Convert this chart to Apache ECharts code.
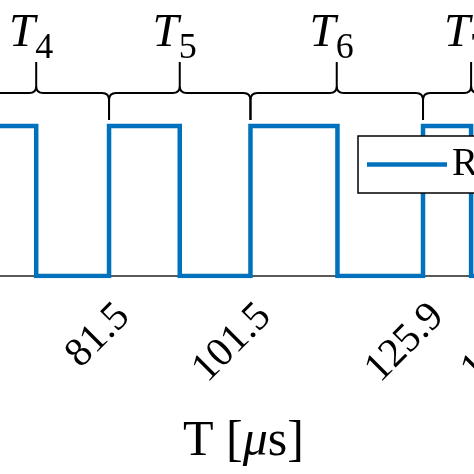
<!DOCTYPE html>
<html><head><meta charset="utf-8">
<script src="https://cdn.jsdelivr.net/npm/echarts@6/dist/echarts.min.js"></script>
<style>html,body{margin:0;padding:0;background:#fff}#c{width:474px;height:474px}</style>
</head><body><div id="c"></div>
<script>
// Data (time in microseconds)
const riseTimes = [60.9, 81.5, 101.5, 125.9, 139.5];
const fallTimes = [71.2, 91.5, 113.8, 132.7];
const levels = { high: 1, low: 0 };
const tickValues = [81.5, 101.5, 125.9, 139.5];
const periodLabels = ['4', '5', '6', '7'];
const seriesName = 'Reference';
const braceLevel = 1.22;

const FONT = '"Liberation Serif", "Times New Roman", serif';
const BLUE = '#0072BD';

// Build the pulse train
const signal = [];
for (let i = 0; i < fallTimes.length; i++) {
  signal.push([riseTimes[i], levels.low], [riseTimes[i], levels.high],
              [fallTimes[i], levels.high], [fallTimes[i], levels.low]);
}
signal.push([riseTimes[riseTimes.length - 1], levels.low], [riseTimes[riseTimes.length - 1], levels.high]);

// Braces: each period from one rising edge to the next
const braces = [];
for (let i = 0; i < riseTimes.length - 1; i++) braces.push([riseTimes[i], riseTimes[i + 1]]);

const chart = echarts.init(document.getElementById('c'), null, { renderer: 'canvas' });
chart.setOption({
  animation: false,
  backgroundColor: '#fff',
  grid: { left: -43, right: -55.8, top: 6, bottom: 198, containLabel: false, outerBoundsMode: 'none' },
  legend: {
    data: [seriesName], left: 358, top: 136, icon: 'rect',
    itemWidth: 80, itemHeight: 4.5, itemGap: 0,
    padding: [9, 40, 9, 9],
    borderColor: '#000', borderWidth: 1.5, borderRadius: 0, backgroundColor: '#fff',
    textStyle: { fontSize: 39, lineHeight: 39, fontFamily: FONT, color: '#000' }
  },
  xAxis: {
    type: 'value', min: 60, max: 141,
    splitLine: { show: false },
    axisLine: { show: true, onZero: true, lineStyle: { color: '#222', width: 1.5 } },
    axisTick: { show: false },
    axisLabel: {
      customValues: tickValues, rotate: 45, align: 'right', verticalAlign: 'top', margin: 20,
      fontSize: 41, fontFamily: FONT, color: '#000',
      formatter: v => v.toFixed(1)
    },
    name: '{a|T [}{b|μ}{a|s]}', nameLocation: 'middle', nameGap: 141,
    nameTextStyle: {
      fontSize: 50, fontFamily: FONT, color: '#000',
      rich: {
        a: { fontSize: 50, fontFamily: FONT, color: '#000' },
        b: { fontSize: 50, fontFamily: FONT, color: '#000', fontStyle: 'italic' }
      }
    }
  },
  yAxis: { type: 'value', min: 0, max: 1.8, show: false, splitLine: { show: false } },
  series: [
    {
      name: seriesName, type: 'line', data: signal, symbol: 'none', clip: true,
      itemStyle: { color: BLUE },
      lineStyle: { color: BLUE, width: 4.5, join: 'miter', cap: 'butt' },
      z: 3
    },
    {
      type: 'custom', coordinateSystem: 'cartesian2d', clip: false, silent: true,
      data: braces, z: 4,
      renderItem: function (params, api) {
        const a = api.value(0), b = api.value(1);
        const m = (a + b) / 2;
        const p1 = api.coord([a, braceLevel]);
        const p2 = api.coord([b, braceLevel]);
        const pm = api.coord([m, braceLevel]);
        const y = p1[1], r = 7, drop = 27, up = 31;
        const x1 = p1[0], x2 = p2[0], xm = pm[0];
        const d = 'M' + x1 + ',' + (y + drop) + ' L' + x1 + ',' + (y + r) +
          ' Q' + x1 + ',' + y + ' ' + (x1 + r) + ',' + y +
          ' L' + (xm - r) + ',' + y + ' Q' + xm + ',' + y + ' ' + xm + ',' + (y - r) +
          ' L' + xm + ',' + (y - up) +
          ' M' + xm + ',' + (y - r) + ' Q' + xm + ',' + y + ' ' + (xm + r) + ',' + y +
          ' L' + (x2 - r) + ',' + y + ' Q' + x2 + ',' + y + ' ' + x2 + ',' + (y + r) +
          ' L' + x2 + ',' + (y + drop);
        return {
          type: 'group',
          children: [
            { type: 'path', shape: { pathData: d }, style: { fill: 'none', stroke: '#000', lineWidth: 2 } },
            { type: 'text', x: xm - 1, y: y - 59,
              style: { text: 'T', fontSize: 47, fontStyle: 'italic', fontFamily: FONT, fill: '#000', align: 'right', verticalAlign: 'middle' } },
            { type: 'text', x: xm - 1, y: y - 44,
              style: { text: periodLabels[params.dataIndex], fontSize: 36, fontFamily: FONT, fill: '#000', align: 'left', verticalAlign: 'middle' } }
          ]
        };
      }
    }
  ]
});
</script>
</body></html>
